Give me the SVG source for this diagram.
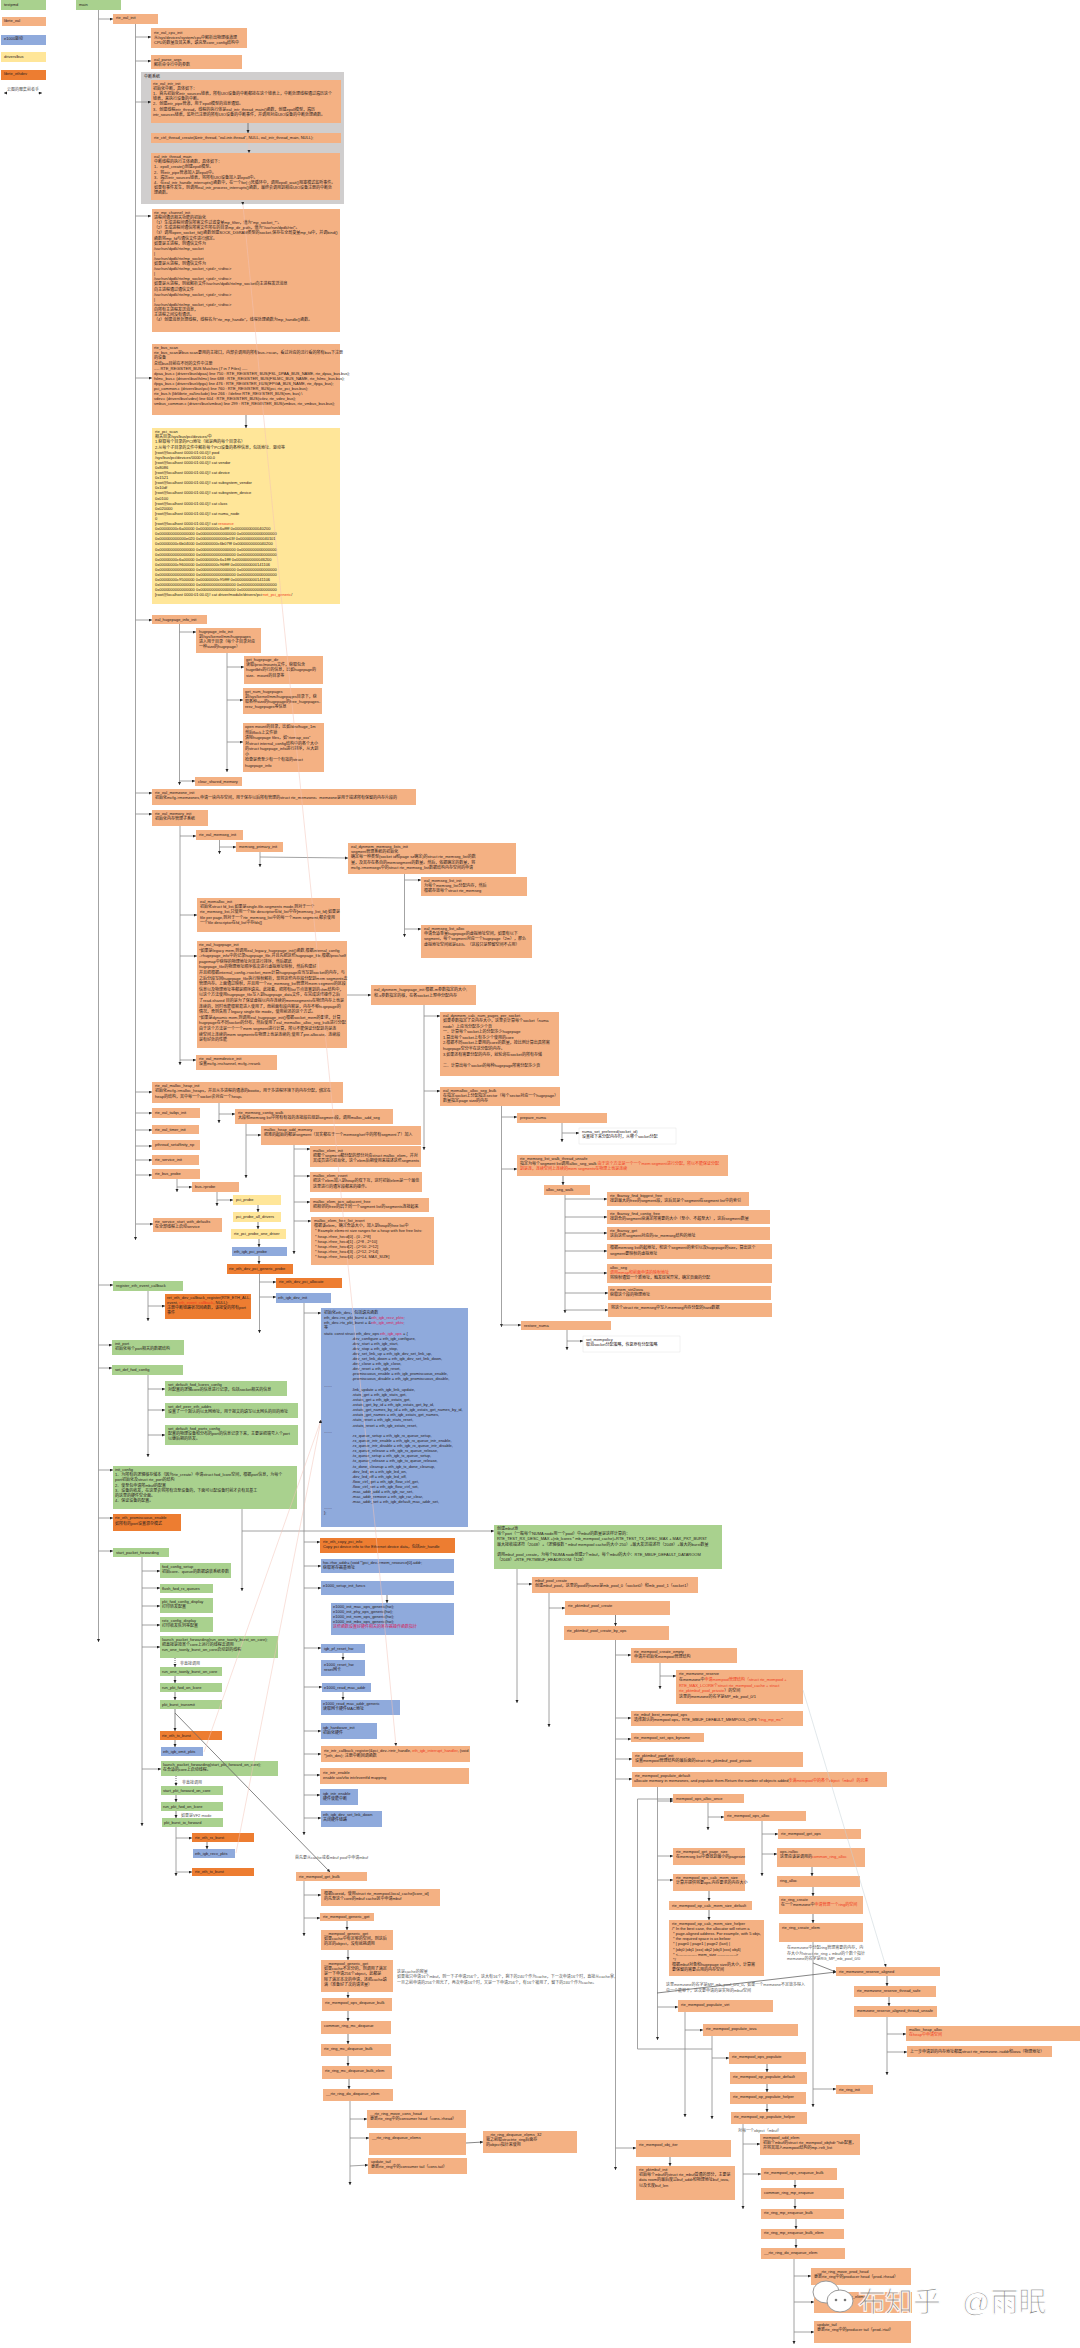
<svg xmlns="http://www.w3.org/2000/svg" width="1080" height="2348" viewBox="0 0 1080 2348">
<style>
.o{fill:#F4B183}.d{fill:#ED7D31}.g{fill:#A9D18E}.b{fill:#8FAADC}.y{fill:#FFE699}.w{fill:#fff;stroke:#e4e4e4;stroke-width:.5}
text{font:4px "Liberation Sans","Noto Sans CJK SC",sans-serif;fill:#2a2020}
.r{fill:#f03a20}.m{fill:#d8205a}.l{fill:#555}
.c path{fill:none;stroke:#8c8c8c;stroke-width:.8;marker-end:url(#a)}
.c .k{stroke:#666}.c .n{marker-end:none}.c .dot{stroke-dasharray:1 1;stroke:#444}
.c .p{stroke:#f2c2b6;stroke-width:.5;marker-start:url(#a)}.c .q{stroke:#f2c2b6;stroke-width:.5}.c .s{stroke:#c4d0d6;stroke-width:.5}
.wm{font:28px "Liberation Sans","Noto Sans CJK SC",sans-serif;fill:#777;stroke:#fff;stroke-width:1.2;paint-order:normal;opacity:.85}
</style>
<defs><marker id="a" markerUnits="userSpaceOnUse" markerWidth="4" markerHeight="4" refX="3" refY="1.5" orient="auto"><path d="M0 0L3 1.5L0 3z" fill="#222"/></marker></defs>
<rect width="1080" height="2348" fill="#fff"/>
<g id="legend">
<rect class="g" x="1" y="0" width="45" height="10"/><text x="4" y="5.8">testpmd</text>
<rect class="o" x="2" y="17" width="44" height="9"/><text x="4" y="22">librte_eal</text>
<rect class="b" x="1" y="35" width="45" height="10"/><text x="4" y="40">e1000驱动</text>
<rect class="y" x="1" y="52" width="45" height="10"/><text x="4" y="58">drivers/bus</text>
<rect class="d" x="1" y="70" width="45" height="10"/><text x="4" y="75">librte_ethdev</text>
<text class="l" x="7" y="91">云图的聚集前者手</text>
</g>
<g id="n-grp"><rect x="141" y="72" width="203" height="132" fill="#D0CECE"/><text x="144" y="78">中断系统</text></g>
<g id="n-main"><rect class="g" x="76" y="0" width="45" height="10"/><text x="79" y="5.5">main</text></g>
<g id="n1"><rect class="o" x="113" y="14" width="45" height="10"/><text x="116" y="19">rte_eal_init</text></g>
<g id="n2"><rect class="o" x="151" y="28" width="96" height="20"/><text x="154" y="28.5"><tspan x="154" dy="5">rte_eal_cpu_init</tspan><tspan x="154" dy="5.1">从/sys/devices/system/cpu中解析出物理核道理</tspan><tspan x="154" dy="5.1">CPU的数量及其关系，填充至core_config结构中</tspan></text></g>
<g id="n3"><rect class="o" x="151" y="55" width="91" height="14"/><text x="154" y="55.5"><tspan x="154" dy="5">eal_parse_args</tspan><tspan x="154" dy="5.1">解析命令行中的参数</tspan></text></g>
<g id="n4"><rect class="o" x="151" y="80" width="190" height="43"/><text y="80"><tspan x="153" dy="5">rte_eal_intr_init</tspan><tspan x="153" dy="5.1">初始化中断，具体如下：</tspan><tspan x="153" dy="5.1">1、首先初始化intr_sources链表，所有UIO设备的中断都挂在这个链表上，中断处理线程通过遍历这个</tspan><tspan x="153" dy="5.1">链表，来执行设备的中断。</tspan><tspan x="153" dy="5.1">2、创建intr_pipe管道，用于epoll模型的消息通知。</tspan><tspan x="153" dy="5.1">3、创建线程intr_thread，线程的执行体是eal_intr_thread_main()函数，创建epoll模型，遍历</tspan><tspan x="153" dy="5.1">intr_sources链表，监听已注册的所有UIO设备的中断事件，并调用对应UIO设备的中断处理函数。</tspan></text></g>
<g id="n5"><rect class="o" x="151" y="133" width="190" height="10"/><text x="154" y="139">rte_ctrl_thread_create(&amp;intr_thread, "eal-intr-thread", NULL, eal_intr_thread_main, NULL);</text></g>
<g id="n6"><rect class="o" x="151" y="153" width="189" height="47"/><text y="153"><tspan x="154" dy="5.2">eal_intr_thread_main</tspan><tspan x="154" dy="5.1">中断线程的执行主体函数，具体如下：</tspan><tspan x="154" dy="5.1">1、epoll_create()创建epoll模型。</tspan><tspan x="154" dy="5.1">2、将intr_pipe管道加入到epoll中。</tspan><tspan x="154" dy="5.1">3、遍历intr_sources链表，将所有UIO设备加入到epoll中。</tspan><tspan x="154" dy="5.1">4、在eal_intr_handle_interrupts()函数中，在一个for(;;)死循环中，调用epoll_wait()阻塞模式监听事件。</tspan><tspan x="154" dy="5.1">如果有事件发生，则调用eal_intr_process_interrupts()函数，最终会调用到相应UIO设备注册的中断处</tspan><tspan x="154" dy="5.1">理函数。</tspan></text></g>
<g id="n7"><rect class="o" x="152" y="209" width="188" height="123"/><text y="209"><tspan x="154" dy="5">rte_mp_channel_init</tspan><tspan x="154" dy="5.1">进程间通讯相关功能的初始化</tspan><tspan x="154" dy="5.1">（1）生成进程间通信所需文件过滤变量mp_filter，值为"mp_socket_*"。</tspan><tspan x="154" dy="5.1">（2）生成进程间通信所需文件所在的目录mp_dir_path，值为"/var/run/dpdk/rte/"。</tspan><tspan x="154" dy="5.1">（3）调用open_socket_fd()函数创建SOCK_DGRAM类型的socket,保存在全局变量mp_fd中，并调bind()</tspan><tspan x="154" dy="5.1">函数将mp_fd与通信文件进行绑定。</tspan><tspan x="154" dy="5.1">如果是主进程，则通信文件为</tspan><tspan x="154" dy="5.1">/var/run/dpdk/rte/mp_socket</tspan><tspan x="154" dy="5.1">|</tspan><tspan x="154" dy="5.1">/var/run/dpdk/rte/mp_socket</tspan><tspan x="154" dy="5.1">如果是从进程，则通信文件为</tspan><tspan x="154" dy="5.1">/var/run/dpdk/rte/mp_socket_&lt;pid&gt;_&lt;rdtsc&gt;</tspan><tspan x="154" dy="5.1">|</tspan><tspan x="154" dy="5.1">/var/run/dpdk/rte/mp_socket_&lt;pid&gt;_&lt;rdtsc&gt;</tspan><tspan x="154" dy="5.1">如果是从进程，则就解析文件/var/run/dpdk/rte/mp_socket向主进程发送消息</tspan><tspan x="154" dy="5.1">向主进程通过通信文件</tspan><tspan x="154" dy="5.1">/var/run/dpdk/rte/mp_socket_&lt;pid&gt;_&lt;rdtsc&gt;</tspan><tspan x="154" dy="5.1">|</tspan><tspan x="154" dy="5.1">/var/run/dpdk/rte/mp_socket_&lt;pid&gt;_&lt;rdtsc&gt;</tspan><tspan x="154" dy="5.1">向所有主进程发送消息，</tspan><tspan x="154" dy="5.1">主进程之间没有通讯。</tspan><tspan x="154" dy="5.1">（4）创建消息处理线程，线程名为"rte_mp_handle"，线程处理函数为mp_handle()函数。</tspan></text></g>
<g id="n8"><rect class="o" x="152" y="344" width="188" height="71"/><text y="344"><tspan x="154" dy="5.2">rte_bus_scan</tspan><tspan x="154" dy="5.1">rte_bus_scan是bus scan要用的主接口，内部会调用的所有bus->scan，看过对应的流行看的所有bus下注册</tspan><tspan x="154" dy="5.1">的设备</tspan><tspan x="154" dy="5.1">总结bus目前在不同的文件中注册</tspan><tspan x="154" dy="5.1">---- RTE_REGISTER_BUS Matches (7 in 7 Files) ----</tspan><tspan x="154" dy="5.1">dpaa_bus.c (drivers\bus\dpaa) line 750 : RTE_REGISTER_BUS(FSL_DPAA_BUS_NAME, rte_dpaa_bus.bus);</tspan><tspan x="154" dy="5.1">fslmc_bus.c (drivers\bus\fslmc) line 688 : RTE_REGISTER_BUS(FSLMC_BUS_NAME, rte_fslmc_bus.bus);</tspan><tspan x="154" dy="5.1">ifpga_bus.c (drivers\bus\ifpga) line 476 : RTE_REGISTER_BUS(IFPGA_BUS_NAME, rte_ifpga_bus);</tspan><tspan x="154" dy="5.1">pci_common.c (drivers\bus\pci) line 760 : RTE_REGISTER_BUS(pci, rte_pci_bus.bus);</tspan><tspan x="154" dy="5.1">rte_bus.h (lib\librte_eal\include) line 266 : #define RTE_REGISTER_BUS(nm, bus) \</tspan><tspan x="154" dy="5.1">vdev.c (drivers\bus\vdev) line 604 : RTE_REGISTER_BUS(vdev, rte_vdev_bus);</tspan><tspan x="154" dy="5.1">vmbus_common.c (drivers\bus\vmbus) line 299 : RTE_REGISTER_BUS(vmbus, rte_vmbus_bus.bus);</tspan></text></g>
<g id="n9"><rect class="y" x="152" y="428" width="188" height="176"/><text y="428"><tspan x="155" dy="5.2">rte_pci_scan</tspan><tspan x="155" dy="5.1">相关目录/sys/bus/pci/devices/中</tspan><tspan x="155" dy="5.1">1.获取每个目录的PCI地址（就是两的每个目录名）</tspan><tspan x="155" dy="5.1">2.从每个子目录的文件中解析每个PCI设备的各种信息，包括地址、驱动等</tspan><tspan x="155" dy="5.1">[root@localhost 0000:01:00.0]# pwd</tspan><tspan x="155" dy="5.1">/sys/bus/pci/devices/0000:01:00.0</tspan><tspan x="155" dy="5.1">[root@localhost 0000:01:00.0]# cat vendor</tspan><tspan x="155" dy="5.1">0x8086</tspan><tspan x="155" dy="5.1">[root@localhost 0000:01:00.0]# cat device</tspan><tspan x="155" dy="5.1">0x1521</tspan><tspan x="155" dy="5.1">[root@localhost 0000:01:00.0]# cat subsystem_vendor</tspan><tspan x="155" dy="5.1">0x10df</tspan><tspan x="155" dy="5.1">[root@localhost 0000:01:00.0]# cat subsystem_device</tspan><tspan x="155" dy="5.1">0x0100</tspan><tspan x="155" dy="5.1">[root@localhost 0000:01:00.0]# cat class</tspan><tspan x="155" dy="5.1">0x020000</tspan><tspan x="155" dy="5.1">[root@localhost 0000:01:00.0]# cat numa_node</tspan><tspan x="155" dy="5.1">0</tspan><tspan x="155" dy="5.1">[root@localhost 0000:01:00.0]# cat <tspan class="r">resource</tspan></tspan><tspan x="155" dy="5.1">0x00000000c6a00000  0x00000000c6afffff  0x0000000000040200</tspan><tspan x="155" dy="5.1">0x0000000000000000  0x0000000000000000  0x0000000000000000</tspan><tspan x="155" dy="5.1">0x000000000000e020  0x000000000000e03f  0x0000000000040101</tspan><tspan x="155" dy="5.1">0x00000000c6b04000  0x00000000c6b07fff  0x0000000000040200</tspan><tspan x="155" dy="5.1">0x0000000000000000  0x0000000000000000  0x0000000000000000</tspan><tspan x="155" dy="5.1">0x0000000000000000  0x0000000000000000  0x0000000000000000</tspan><tspan x="155" dy="5.1">0x00000000c6a00000  0x00000000c6a1ffff  0x0000000000046200</tspan><tspan x="155" dy="5.1">0x00000000c9600000  0x00000000c96fffff  0x0000000000141106</tspan><tspan x="155" dy="5.1">0x0000000000000000  0x0000000000000000  0x0000000000000000</tspan><tspan x="155" dy="5.1">0x0000000000000000  0x0000000000000000  0x0000000000000000</tspan><tspan x="155" dy="5.1">0x00000000c9500000  0x00000000c95fffff  0x0000000000141106</tspan><tspan x="155" dy="5.1">0x0000000000000000  0x0000000000000000  0x0000000000000000</tspan><tspan x="155" dy="5.1">0x0000000000000000  0x0000000000000000  0x0000000000000000</tspan><tspan x="155" dy="5.1">[root@localhost 0000:01:00.0]# cat driver/module/drivers/pci:<tspan class="r">net_pci_generic</tspan>/</tspan></text></g>
<g id="n10"><rect class="o" x="152" y="615" width="55" height="9"/><text x="155" y="621">eal_hugepage_info_init</text></g>
<g id="n11"><rect class="o" x="196" y="628" width="65" height="25"/><text y="628"><tspan x="199" dy="5">hugepage_info_init</tspan><tspan x="199" dy="5.1">到/sys/kernel/mm/hugepages</tspan><tspan x="199" dy="5.1">进入用于目录（每个子目录对应</tspan><tspan x="199" dy="5.1">一种size的hugepage）</tspan></text></g>
<g id="n12"><rect class="o" x="244" y="656" width="79" height="28"/><text y="656"><tspan x="246" dy="5.2">get_hugepage_dir</tspan><tspan x="246" dy="5.1">读取/proc/mounts文件，获取包含</tspan><tspan x="246" dy="5.1">hugetlbfs的行的信息，比如hugepage的</tspan><tspan x="246" dy="5.1">size、mount的目录等</tspan></text></g>
<g id="n13"><rect class="o" x="243" y="688" width="79" height="26"/><text y="688"><tspan x="245" dy="5">get_num_hugepages</tspan><tspan x="245" dy="5.1">到/sys/kernel/mm/hugepages目录下，获</tspan><tspan x="245" dy="5.1">取各种size的hugepage的free_hugepages、</tspan><tspan x="245" dy="5.1">resv_hugepages等信息</tspan></text></g>
<g id="n14"><rect class="o" x="243" y="723" width="81" height="49"/><text y="723"><tspan x="245" dy="5">open mount的目录，比如/dev/huge_1m</tspan><tspan x="245" dy="5.5">然后flock上文件锁</tspan><tspan x="245" dy="5.5">清除hugepage files，如"rtemap_xxx"</tspan><tspan x="245" dy="5.5">对struct internal_config结构中的各个大小</tspan><tspan x="245" dy="5.5">的struct hugepage_info进行排序，从大到</tspan><tspan x="245" dy="5.5">小</tspan><tspan x="245" dy="5.5">检查是否至少有一个有效的struct</tspan><tspan x="245" dy="5.5">hugepage_info</tspan></text></g>
<g id="n15"><rect class="o" x="195" y="777" width="47" height="9"/><text x="198" y="783">clear_shared_memory</text></g>
<g id="n16"><rect class="o" x="152" y="789" width="264" height="16"/><text y="789"><tspan x="155" dy="5.2">rte_eal_memzone_init</tspan><tspan x="155" dy="5.2">初始化mcfg->memzones,申请一块内存空间，用于保存以后所有管理的struct rte_memzone。memzone是用于描述所有保留的内存片段的</tspan></text></g>
<g id="n17"><rect class="o" x="152" y="810" width="56" height="16"/><text y="810"><tspan x="155" dy="5.2">rte_eal_memory_init</tspan><tspan x="155" dy="5.2">初始化内存管理子系统</tspan></text></g>
<g id="n18"><rect class="o" x="196" y="830" width="47" height="10"/><text x="199" y="836">rte_eal_memseg_init</text></g>
<g id="n19"><rect class="o" x="236" y="842" width="47" height="10"/><text x="239" y="848">memseg_primary_init</text></g>
<g id="n20"><rect class="o" x="348" y="843" width="168" height="31"/><text y="843"><tspan x="351" dy="5.2">eal_dynmem_memseg_lists_init</tspan><tspan x="351" dy="5.1">segment管理系统的初始化</tspan><tspan x="351" dy="5.1">确定每一种类型(socket id和page sz确定)的struct rte_memseg_list的数</tspan><tspan x="351" dy="5.1">量，及其存在各自的memsegment的数量。然后，依据确定的数量，将</tspan><tspan x="351" dy="5.1">mcfg->memsegs中的struct rte_memseg_list数据结构内存空间的申请</tspan></text></g>
<g id="n21"><rect class="o" x="421" y="877" width="106" height="19"/><text y="877"><tspan x="424" dy="5.2">eal_memseg_list_init</tspan><tspan x="424" dy="5.1">为每个memseg_list分配内存，然后</tspan><tspan x="424" dy="5.1">根据存放每个struct rte_memseg</tspan></text></g>
<g id="n22"><rect class="o" x="421" y="925" width="111" height="33"/><text y="925"><tspan x="424" dy="5.2">eal_memseg_list_alloc</tspan><tspan x="424" dy="5.1">申请合适重量hugepage的虚拟地址空间，如果有以下</tspan><tspan x="424" dy="5.1">segment，每个segment对应一个hugepage（2m），那么</tspan><tspan x="424" dy="5.1">虚拟地址空间就是64G。（这段只是预留空间不占用）</tspan></text></g>
<g id="n23"><rect class="o" x="197" y="898" width="143" height="34"/><text y="898"><tspan x="200" dy="5.2">eal_memalloc_init</tspan><tspan x="200" dy="5.1">初始化struct fd_list,如果是single-file-segments mode,则对于一个</tspan><tspan x="200" dy="5.1">rte_memseg_list,只使用一个file descriptor在fd_list中存[memseg_list_fd];如果是</tspan><tspan x="200" dy="5.1">file per page,则对于一个rte_memseg_list中的每一个mem segment,都会使用</tspan><tspan x="200" dy="5.1">一个file descriptor在fd_list中存fds[]</tspan></text></g>
<g id="n24"><rect class="o" x="197" y="941" width="150" height="107"/><text y="941"><tspan x="199" dy="5">rte_eal_hugepage_init</tspan><tspan x="199" dy="5.6">*如果是legacy mem,则调用eal_legacy_hugepage_init()函数,根据internal_config</tspan><tspan x="199" dy="5.6">->hugepage_info中的记录hugepage_file,并且先把这些hugepage_file,根据/proc/self</tspan><tspan x="199" dy="5.6">pagemap中获得的物理地址对其进行排序，然后据此</tspan><tspan x="199" dy="5.6">hugepage_file的物理地址顺序依次进行虚拟地址映射，然后构建好</tspan><tspan x="199" dy="5.6">并且把根据internal_config->socket_mem计算hugepage应当写到socket的内存，与</tspan><tspan x="199" dy="5.6">之后分段写回hugepage_file执行映射解析，现将这些内存段分配到mem segments去</tspan><tspan x="199" dy="5.6">管理内存。上面通过映射，并且用一个rte_memseg_list管理对mem segment的区段</tspan><tspan x="199" dy="5.6">信息以及物理地址等都是顺序填充。此接着，把所有list节点放置到的shm结构中，</tspan><tspan x="199" dy="5.6">以这个方法使用hugepage_file写入到hugepage_data文件，在完成这些操作之后</tspan><tspan x="199" dy="5.6">了read-shared 目的是为了保证虚拟以内存连续的memsegments在物理内存上也是</tspan><tspan x="199" dy="5.6">连续的，同时也能很容易进入使用了，而前面有段内容是，内存不够hugepage的</tspan><tspan x="199" dy="5.6">情况，否则失败了legacy single file mode，使用前还的这个方式。</tspan><tspan x="199" dy="5.6">*如果是dynamic mem,则调用eal_hugepage_init()根据socket_mem的要求，计算</tspan><tspan x="199" dy="5.6">hugepage在不同socket的分布，然后使用了eal_memalloc_alloc_seg_bulk进行分配</tspan><tspan x="199" dy="5.6">由于这个方法是一个一个mem segment进行计算，所以不能保证分配到的是连</tspan><tspan x="199" dy="5.6">续空间上连续的mem segments在物理上也是连续的,使用了pre-allocate，连续段</tspan><tspan x="199" dy="5.6">是有好处的性能</tspan></text></g>
<g id="n25"><rect class="o" x="196" y="1055" width="81" height="15"/><text y="1055"><tspan x="199" dy="5">rte_eal_memdevice_init</tspan><tspan x="199" dy="5.3">设置mcfg->nchannel, mcfg->nrank</tspan></text></g>
<g id="n26"><rect class="o" x="152" y="1082" width="191" height="21"/><text y="1082"><tspan x="155" dy="5">rte_eal_malloc_heap_init</tspan><tspan x="155" dy="5.3">初始化mcfg->malloc_heaps，并且从多进程的通道的bootio，用于多进程环境下的内存分配，绑定在</tspan><tspan x="155" dy="5.3">heap的结构，其中每一个socket会对应一个heap。</tspan></text></g>
<g id="n27"><rect class="o" x="152" y="1108" width="48" height="10"/><text x="155" y="1114">rte_eal_tailqs_init</text></g>
<g id="n28"><rect class="o" x="152" y="1125" width="47" height="9"/><text x="155" y="1130.5">rte_eal_timer_init</text></g>
<g id="n29"><rect class="o" x="152" y="1140" width="48" height="10"/><text x="155" y="1146">pthread_setaffinity_np</text></g>
<g id="n30"><rect class="o" x="152" y="1155" width="47" height="10"/><text x="155" y="1160.5">rte_service_init</text></g>
<g id="n31"><rect class="o" x="152" y="1169" width="48" height="10"/><text x="155" y="1175">rte_bus_probe</text></g>
<g id="n32"><rect class="o" x="192" y="1182" width="47" height="10"/><text x="195" y="1187.5">bus->probe</text></g>
<g id="n33"><rect class="y" x="233" y="1195" width="48" height="10"/><text x="236" y="1200.5">pci_probe</text></g>
<g id="n34"><rect class="y" x="233" y="1212" width="48" height="10"/><text x="236" y="1217.5">pci_probe_all_drivers</text></g>
<g id="n35"><rect class="y" x="231" y="1229" width="55" height="10"/><text x="234" y="1235">rte_pci_probe_one_driver</text></g>
<g id="n36"><rect class="b" x="232" y="1247" width="55" height="9"/><text x="234" y="1252.5">eth_igb_pci_probe</text></g>
<g id="n37"><rect class="d" x="227" y="1264" width="66" height="10"/><text x="229" y="1270">rte_eth_dev_pci_generic_probe</text></g>
<g id="n38"><rect class="d" x="276" y="1278" width="66" height="10"/><text x="279" y="1283">rte_eth_dev_pci_allocate</text></g>
<g id="n39"><rect class="b" x="276" y="1293" width="55" height="10"/><text x="278" y="1298.5">eth_igb_dev_init</text></g>
<g id="n40"><rect class="o" x="153" y="1218" width="69" height="14"/><text y="1218"><tspan x="155" dy="5">rte_service_start_with_defaults</tspan><tspan x="155" dy="5.1">在全部线程上启动service</tspan></text></g>
<g id="n41"><rect class="o" x="235" y="1109" width="158" height="15"/><text y="1109"><tspan x="238" dy="5">rte_memseg_contig_walk</tspan><tspan x="238" dy="5.1">大段和memseg list中所有有效的连接段抗组到segment段，调用malloc_add_seg</tspan></text></g>
<g id="n42"><rect class="o" x="261" y="1126" width="160" height="19"/><text y="1126"><tspan x="264" dy="5">malloc_heap_add_memory</tspan><tspan x="264" dy="5.2">把堆的起始的都是segment（其实都在于一个memseg/set中的所有segment了）加入</tspan></text></g>
<g id="n43"><rect class="o" x="310" y="1146" width="111" height="21"/><text y="1146"><tspan x="313" dy="5.5">malloc_elem_init</tspan><tspan x="313" dy="5.3">把整个segment都分配的部分对应struct malloc_elem，并对</tspan><tspan x="313" dy="5.3">其成员进行初始化，这个elem后期使用来描述这些segments</tspan></text></g>
<g id="n44"><rect class="o" x="310" y="1172" width="112" height="20"/><text y="1172"><tspan x="313" dy="5">malloc_elem_insert</tspan><tspan x="313" dy="5.3">把这个elem加入到heap的双下互，这时初始elem是一个最佳</tspan><tspan x="313" dy="5.3">这里进行的通常段都来的操作。</tspan></text></g>
<g id="n45"><rect class="o" x="310" y="1198" width="119" height="14"/><text y="1198"><tspan x="313" dy="5">malloc_elem_join_adjacent_free</tspan><tspan x="313" dy="5.1">把相邻的free的属于同一个segment list的segments连接起来</tspan></text></g>
<g id="n46"><rect class="o" x="311" y="1217" width="123" height="48"/><text y="1217"><tspan x="314" dy="5">malloc_elem_free_list_insert</tspan><tspan x="314" dy="5.2">根据该elem，确定合适大小，加入到heap的free list中</tspan><tspan x="314" dy="5.2"> * Example element size ranges for a heap with five free lists:</tspan><tspan x="314" dy="5.2"> *   heap->free_head[0] - (0   , 2^8]</tspan><tspan x="314" dy="5.2"> *   heap->free_head[1] - (2^8 , 2^10]</tspan><tspan x="314" dy="5.2"> *   heap->free_head[2] - (2^10 ,2^12]</tspan><tspan x="314" dy="5.2"> *   heap->free_head[3] - (2^12, 2^14]</tspan><tspan x="314" dy="5.2"> *   heap->free_head[4] - (2^14, MAX_SIZE]</tspan></text></g>
<g id="n47"><rect class="o" x="371" y="985" width="105" height="20"/><text y="985"><tspan x="374" dy="6">eal_dynmem_hugepage_init 根据-m参数指定的大小,</tspan><tspan x="374" dy="5.6">和-s参数指定的核，在各socket上预申分配内存</tspan></text></g>
<g id="n48"><rect class="o" x="440" y="1012" width="119" height="64"/><text y="1012"><tspan x="443" dy="5">eal_dynmem_calc_num_pages_per_socket</tspan><tspan x="443" dy="5.3">如果参数指定了总内存大小，这里会计算每个socket（numa</tspan><tspan x="443" dy="5.3">node）上应当分配多少个页</tspan><tspan x="443" dy="5.6">一、计算每个socket上的分配多少hugepage</tspan><tspan x="443" dy="5.6">1.算出每个socket上有多少个使用的core</tspan><tspan x="443" dy="5.6">2.根据不同socket上要用的core的数量，按比例计算出具所需</tspan><tspan x="443" dy="5.6">hugepage空分半在这分配的内存。</tspan><tspan x="443" dy="5.6">3.如果还有需要分配的内存，就轮询在socket的所有存储</tspan><tspan x="443" dy="11">二、计算出每个socket的每种hugepage所需分配多少页</tspan></text></g>
<g id="n49"><rect class="o" x="440" y="1087" width="120" height="19"/><text y="1087"><tspan x="443" dy="4.8">eal_memalloc_alloc_seg_bulk</tspan><tspan x="443" dy="5.1">在指定socket上分配指定sector（每个sector对应一个hugepage）</tspan><tspan x="443" dy="5.1">数量指定page size的内存</tspan></text></g>
<g id="n50"><rect class="o" x="517" y="1113" width="90" height="10"/><text x="520" y="1118.5">prepare_numa</text></g>
<g id="n51"><rect class="w" x="579" y="1128" width="97" height="16"/><text y="1128"><tspan x="582" dy="5.2">numa_set_preferred(socket_id)</tspan><tspan x="582" dy="5.1">设置接下来分配内存时，从哪个socket分配</tspan></text></g>
<g id="n52"><rect class="o" x="517" y="1155" width="211" height="21"/><text y="1155"><tspan x="520" dy="5">rte_memseg_list_walk_thread_unsafe</tspan><tspan x="520" dy="5.2">指定为每个segment list调用alloc_seg_walk  <tspan class="r">由于这个方法是一个一个mem segment进行分配，所以不能保证分配</tspan></tspan><tspan x="520" dy="5.2" class="r">到是连，连续空间上连续的mem segments在物理上也是连续</tspan></text></g>
<g id="n53"><rect class="o" x="544" y="1185" width="46" height="10"/><text x="546" y="1190.5">alloc_seg_walk</text></g>
<g id="n54"><rect class="o" x="607" y="1192" width="142" height="14"/><text y="1192"><tspan x="610" dy="5">rte_fbarray_find_biggest_free</tspan><tspan x="610" dy="5.1">找到最大的free的segment段，这后其是个segment在segment list中的索引</tspan></text></g>
<g id="n55"><rect class="o" x="607" y="1210" width="163" height="14"/><text y="1210"><tspan x="610" dy="5">rte_fbarray_find_contig_free</tspan><tspan x="610" dy="5.1">找到合的segment块满足所需要的大小（至小、不超至大），这后segment数量</tspan></text></g>
<g id="n56"><rect class="o" x="607" y="1227" width="163" height="13"/><text y="1227"><tspan x="610" dy="5">rte_fbarray_get</tspan><tspan x="610" dy="5.1">这后这些segment对应的rte_memseg结构的地址</tspan></text></g>
<g id="n57"><rect class="o" x="607" y="1244" width="165" height="15"/><text y="1244"><tspan x="610" dy="5.4">根据memseg list的起地址，和这个segment的索引以及hugepage的size，算出这个</tspan><tspan x="610" dy="5.4">segment要映射的虚拟地址</tspan></text></g>
<g id="n58"><rect class="o" x="607" y="1264" width="165" height="19"/><text y="1264"><tspan x="610" dy="5">alloc_seg</tspan><tspan x="610" dy="5.2" class="r">调用mmap和前面申请的映射地址</tspan><tspan x="610" dy="5.2">将映射通知一个新地址，触发经常异常，确定页面的分配</tspan></text></g>
<g id="n59"><rect class="o" x="608" y="1286" width="163" height="14"/><text y="1286"><tspan x="610" dy="5">rte_mem_virt2iova</tspan><tspan x="610" dy="5.1">获取这个段的物理地址</tspan></text></g>
<g id="n60"><rect class="o" x="608" y="1303" width="164" height="14"/><text x="611" y="1309">将这个struct rte_memseg中写入memseg内存分配的hard数据</text></g>
<g id="n61"><rect class="o" x="521" y="1321" width="90" height="9"/><text x="524" y="1326.5">restore_numa</text></g>
<g id="n62"><rect class="w" x="583" y="1336" width="97" height="16"/><text y="1336"><tspan x="586" dy="5.2">set_mempolicy</tspan><tspan x="586" dy="5.1">取消socket分配策略，恢复原有分配策略</tspan></text></g>
<g id="n63"><rect class="g" x="113" y="1281" width="70" height="10"/><text x="116" y="1286.5">register_eth_event_callback</text></g>
<g id="n64"><rect class="d" x="165" y="1294" width="86" height="25"/><text y="1294"><tspan x="167" dy="5">ret_eth_dev_callback_register(RTE_ETH_ALL,</tspan><tspan x="167" dy="5.1">event, <tspan class="r">eth_event_callback</tspan>, NULL);</tspan><tspan x="167" dy="5.1">注册中断链路状况回函数，该接受的所有port</tspan><tspan x="167" dy="5.1">事件</tspan></text></g>
<g id="n65"><rect class="g" x="112" y="1340" width="72" height="15"/><text y="1340"><tspan x="115" dy="5.2">init_port</tspan><tspan x="115" dy="5.2">初始化每个port相关的数据结构</tspan></text></g>
<g id="n66"><rect class="g" x="112" y="1365" width="71" height="10"/><text x="115" y="1370.5">set_def_fwd_config</text></g>
<g id="n67"><rect class="g" x="165" y="1381" width="122" height="15"/><text y="1381"><tspan x="168" dy="5">set_default_fwd_lcores_config</tspan><tspan x="168" dy="5.2">对配置的逻辑core的信息进行记录，包括socket相关的信息</tspan></text></g>
<g id="n68"><rect class="g" x="165" y="1403" width="133" height="15"/><text y="1403"><tspan x="168" dy="5">set_def_peer_eth_addrs</tspan><tspan x="168" dy="5.2">设置了一个默认的以太网地址，用于报文的填写以太网头的目的地址</tspan></text></g>
<g id="n69"><rect class="g" x="165" y="1425" width="133" height="20"/><text y="1425"><tspan x="168" dy="5">set_default_fwd_ports_config</tspan><tspan x="168" dy="5.1">配置的物理设备和分布的port的信息记录下来，主要是把端号入个port</tspan><tspan x="168" dy="5.1">以便后期的转发。</tspan></text></g>
<g id="n70"><rect class="g" x="113" y="1466" width="184" height="43"/><text y="1466"><tspan x="115" dy="5.2">init_config</tspan><tspan x="115" dy="5.1">1、为所有的逻辑核存储本（因为rte_create）申请struct fwd_lcore空间，根据port信息，为每个</tspan><tspan x="115" dy="5.1">port初始化及struct rte_port的结构</tspan><tspan x="115" dy="5.1">2、使至包申请所mbuf的配置</tspan><tspan x="115" dy="5.1">3、设备的收发，在这里会将所有流至设备的，下面可以配设备时前才会有其基工</tspan><tspan x="115" dy="5.1">的这里的硬件空全面。</tspan><tspan x="115" dy="5.1">4、保证设备的配置。</tspan></text></g>
<g id="n71"><rect class="d" x="113" y="1514" width="68" height="17"/><text y="1514"><tspan x="115" dy="5.4">rte_eth_promiscuous_enable</tspan><tspan x="115" dy="5.2">如所有的port设置混杂模式</tspan></text></g>
<g id="n72"><rect class="g" x="113" y="1548" width="56" height="9"/><text x="116" y="1553.5">start_packet_forwarding</text></g>
<g id="n73"><rect class="g" x="160" y="1563" width="71" height="15"/><text y="1563"><tspan x="162" dy="5">fwd_config_setup</tspan><tspan x="162" dy="5.3">初始core、queue的数据填装系统参数</tspan></text></g>
<g id="n74"><rect class="g" x="160" y="1584" width="53" height="9"/><text x="162" y="1589.5">flush_fwd_rx_queues</text></g>
<g id="n75"><rect class="g" x="160" y="1598" width="53" height="15"/><text y="1598"><tspan x="162" dy="5">pkt_fwd_config_display</tspan><tspan x="162" dy="5.2">打印转发配置</tspan></text></g>
<g id="n76"><rect class="g" x="160" y="1617" width="53" height="15"/><text y="1617"><tspan x="162" dy="5">rxtx_config_display</tspan><tspan x="162" dy="5.2">打印收发队列等配置</tspan></text></g>
<g id="n77"><rect class="g" x="160" y="1636" width="118" height="22"/><text y="1636"><tspan x="162" dy="5">launch_packet_forwarding(run_one_txonly_burst_on_core);</tspan><tspan x="162" dy="5.1">把直接是按某个core上运行的线程去调用</tspan><tspan x="162" dy="5.1">run_one_txonly_burst_on_core启动到的线程</tspan></text></g>
<g id="n78"><rect class="g" x="160" y="1667" width="62" height="9"/><text x="162" y="1672.5">run_one_txonly_burst_on_core</text></g>
<g id="n79"><rect class="g" x="160" y="1683" width="62" height="9"/><text x="162" y="1688.5">run_pkt_fwd_on_lcore</text></g>
<g id="n80"><rect class="g" x="160" y="1700" width="62" height="9"/><text x="162" y="1705.5">pkt_burst_transmit</text></g>
<g id="n81"><rect class="d" x="160" y="1731" width="62" height="9"/><text x="162" y="1736.5">rte_eth_tx_burst</text></g>
<g id="n82"><rect class="b" x="161" y="1747" width="42" height="9"/><text x="163" y="1752.5">eth_igb_xmit_pkts</text></g>
<g id="n83"><rect class="g" x="161" y="1761" width="117" height="15"/><text y="1761"><tspan x="163" dy="5">launch_packet_forwarding(start_pkt_forward_on_core);</tspan><tspan x="163" dy="5.1">在合适的core上启动线程。</tspan></text></g>
<g id="n84"><rect class="g" x="161" y="1786" width="62" height="9"/><text x="163" y="1791.5">start_pkt_forward_on_core</text></g>
<g id="n85"><rect class="g" x="161" y="1802" width="62" height="9"/><text x="163" y="1807.5">run_pkt_fwd_on_lcore</text></g>
<g id="n86"><rect class="g" x="162" y="1818" width="61" height="9"/><text x="164" y="1823.5">pkt_burst_io_forward</text></g>
<g id="n87"><rect class="d" x="192" y="1833" width="62" height="9"/><text x="195" y="1838.5">rte_eth_rx_burst</text></g>
<g id="n88"><rect class="b" x="193" y="1849" width="42" height="9"/><text x="195" y="1854.5">eth_igb_recv_pkts</text></g>
<g id="n89"><rect class="d" x="192" y="1868" width="62" height="8"/><text x="195" y="1873">rte_eth_tx_burst</text></g>
<g id="labels">
<text class="l" x="180" y="1664.5">非直接调用</text>
<text class="l" x="182" y="1783.5">非直接调用</text>
<text class="l" x="181" y="1816.5">如果是VF2 mode</text>
<text class="l" x="295" y="1858.5">首先要从cache或者mbuf pool中申请mbuf</text>
<text class="l" y="1968"><tspan x="397" dy="5">这是cache的容量</tspan><tspan x="397" dy="5.3">如果我只申请16个mbuf，则一下子申请256个，这大有16个，剩下的240个作为cache，下一次申请16个时，直接从cache拿，</tspan><tspan x="397" dy="5.3">一旦之前申请的256个用光了，再次申请16个时，又是一下申请256个，有16个被用了，留下的240个作为cache。</tspan></text>
<text class="l" y="1944"><tspan x="787" dy="5">在memzone中分配ring管理需要的内存，内</tspan><tspan x="787" dy="5.6">存大小为struct rte_ring + mbuf的个数个指针</tspan><tspan x="787" dy="5.6">memzone的名字是RG_MP_mb_pool_0/0</tspan></text>
<text class="l" y="1981"><tspan x="666" dy="5">这里memzone的名字是MP_mb_pool_0/0_0，如果一个memzone不足放多得入</tspan><tspan x="666" dy="5.8">中一个能够下，这次要申请的是实际的mbuf空间</tspan></text>
<text class="l" x="738" y="2132">对每一个object（mbuf）</text>
</g>
<g id="n90"><rect class="o" x="296" y="1872" width="71" height="9"/><text x="299" y="1877.5">rte_mempool_get_bulk</text></g>
<g id="n91"><rect class="o" x="321" y="1889" width="119" height="17"/><text y="1889"><tspan x="324" dy="5.5">根据lcoreid，使用struct rte_mempool-local_cache[lcore_id]</tspan><tspan x="324" dy="5.5">的先至这个core的mbuf cache区中申请mbuf</tspan></text></g>
<g id="n92"><rect class="o" x="320" y="1913" width="54" height="8"/><text x="323" y="1918">rte_mempool_generic_get</text></g>
<g id="n93"><rect class="o" x="321" y="1930" width="72" height="20"/><text y="1930"><tspan x="324" dy="5">__mempool_generic_get</tspan><tspan x="324" dy="5.2">如果cache中有足够的空间，则这后</tspan><tspan x="324" dy="5.2">的足的object，没有就挑调用</tspan></text></g>
<g id="n94"><rect class="o" x="321" y="1960" width="72" height="32"/><text y="1960"><tspan x="324" dy="5">__mempool_generic_get</tspan><tspan x="324" dy="5.2">如果cache不足分的，则调用了满足</tspan><tspan x="324" dy="5.2">是一下申请256个object，此都是</tspan><tspan x="324" dy="5.2">除了满足本次的申请，还把cache填</tspan><tspan x="324" dy="5.2">满（准备好了次的请求量）</tspan></text></g>
<g id="n95"><rect class="o" x="322" y="1998" width="70" height="13"/><text x="325" y="2004">rte_mempool_ops_dequeue_bulk</text></g>
<g id="n96"><rect class="o" x="321" y="2021" width="70" height="13"/><text x="324" y="2027">common_ring_mc_dequeue</text></g>
<g id="n97"><rect class="o" x="321" y="2044" width="70" height="12"/><text x="324" y="2049.5">rte_ring_mc_dequeue_bulk</text></g>
<g id="n98"><rect class="o" x="322" y="2066" width="70" height="13"/><text x="325" y="2071.5">rte_ring_mc_dequeue_bulk_elem</text></g>
<g id="n99"><rect class="o" x="323" y="2089" width="70" height="12"/><text x="326" y="2094.5">__rte_ring_do_dequeue_elem</text></g>
<g id="n100"><rect class="o" x="367" y="2110" width="99" height="18"/><text y="2110"><tspan x="370" dy="5">__rte_ring_move_cons_head</tspan><tspan x="370" dy="5.2">更新rte_ring中的consumer head（cons->head）</tspan></text></g>
<g id="n101"><rect class="o" x="369" y="2133" width="97" height="22"/><text x="372" y="2139">__rte_ring_dequeue_elems</text></g>
<g id="n102"><rect class="o" x="483" y="2131" width="94" height="22"/><text y="2131"><tspan x="486" dy="5">__rte_ring_dequeue_elems_32</tspan><tspan x="486" dy="5.1">我之前取structrte_ring后面存</tspan><tspan x="486" dy="5.1">的object指针来使用</tspan></text></g>
<g id="n103"><rect class="o" x="368" y="2158" width="99" height="16"/><text y="2158"><tspan x="371" dy="5">update_tail</tspan><tspan x="371" dy="5.2">更新rte_ring中的consumer tail（cons.tail）</tspan></text></g>
<g id="n104"><rect class="b" x="321" y="1308" width="147" height="219"/><text y="1308"><tspan x="324" dy="5.5">初始化eth_dev，包括填充函数</tspan><tspan x="324" dy="5.2">eth_dev->rx_pkt_burst = &amp;<tspan class="m">eth_igb_recv_pkts</tspan>;</tspan><tspan x="324" dy="5.1">eth_dev->tx_pkt_burst = &amp;<tspan class="m">eth_igb_xmit_pkts</tspan>;</tspan><tspan x="324" dy="5.1">等</tspan><tspan x="324" dy="5.6">static const struct eth_dev_ops <tspan class="m">eth_igb_ops</tspan> = {</tspan><tspan x="352" dy="5.1">.dev_configure       = eth_igb_configure,</tspan><tspan x="352" dy="5.1">.dev_start           = eth_igb_start,</tspan><tspan x="352" dy="5.1">.dev_stop            = eth_igb_stop,</tspan><tspan x="352" dy="5.1">.dev_set_link_up     = eth_igb_dev_set_link_up,</tspan><tspan x="352" dy="5.1">.dev_set_link_down   = eth_igb_dev_set_link_down,</tspan><tspan x="352" dy="5.1">.dev_close           = eth_igb_close,</tspan><tspan x="352" dy="5.1">.dev_reset           = eth_igb_reset,</tspan><tspan x="352" dy="5.1">.promiscuous_enable  = eth_igb_promiscuous_enable,</tspan><tspan x="352" dy="5.1">.promiscuous_disable = eth_igb_promiscuous_disable,</tspan><tspan x="324" dy="6.6">……</tspan><tspan x="352" dy="3.8">.link_update         = eth_igb_link_update,</tspan><tspan x="352" dy="5.1">.stats_get           = eth_igb_stats_get,</tspan><tspan x="352" dy="5.1">.xstats_get          = eth_igb_xstats_get,</tspan><tspan x="352" dy="5.1">.xstats_get_by_id    = eth_igb_xstats_get_by_id,</tspan><tspan x="352" dy="5.1">.xstats_get_names_by_id = eth_igb_xstats_get_names_by_id,</tspan><tspan x="352" dy="5.1">.xstats_get_names    = eth_igb_xstats_get_names,</tspan><tspan x="352" dy="5.1">.stats_reset         = eth_igb_stats_reset,</tspan><tspan x="352" dy="5.1">.xstats_reset        = eth_igb_xstats_reset,</tspan><tspan x="324" dy="6">……</tspan><tspan x="352" dy="4.4">.rx_queue_setup      = eth_igb_rx_queue_setup,</tspan><tspan x="352" dy="5.1">.rx_queue_intr_enable = eth_igb_rx_queue_intr_enable,</tspan><tspan x="352" dy="5.1">.rx_queue_intr_disable = eth_igb_rx_queue_intr_disable,</tspan><tspan x="352" dy="5.1">.rx_queue_release    = eth_igb_rx_queue_release,</tspan><tspan x="352" dy="5.1">.tx_queue_setup      = eth_igb_tx_queue_setup,</tspan><tspan x="352" dy="5.1">.tx_queue_release    = eth_igb_tx_queue_release,</tspan><tspan x="352" dy="5.1">.tx_done_cleanup     = eth_igb_tx_done_cleanup,</tspan><tspan x="352" dy="5.1">.dev_led_on          = eth_igb_led_on,</tspan><tspan x="352" dy="5.1">.dev_led_off         = eth_igb_led_off,</tspan><tspan x="352" dy="5.1">.flow_ctrl_get       = eth_igb_flow_ctrl_get,</tspan><tspan x="352" dy="5.1">.flow_ctrl_set       = eth_igb_flow_ctrl_set,</tspan><tspan x="352" dy="5.1">.mac_addr_add        = eth_igb_rar_set,</tspan><tspan x="352" dy="5.1">.mac_addr_remove     = eth_igb_rar_clear,</tspan><tspan x="352" dy="5.1">.mac_addr_set        = eth_igb_default_mac_addr_set,</tspan><tspan x="324" dy="6">……</tspan><tspan x="324" dy="5.1">};</tspan></text></g>
<g id="n105"><rect class="d" x="320" y="1538" width="135" height="15"/><text y="1538"><tspan x="323" dy="5">rte_eth_copy_pci_info</tspan><tspan x="323" dy="5.2">Copy pci device info to the Ethernet device data，包括intr_handle</tspan></text></g>
<g id="n106"><rect class="b" x="321" y="1559" width="133" height="14"/><text y="1559"><tspan x="323" dy="5">hw->hw_addr= (void *)pci_dev->mem_resource[0].addr;</tspan><tspan x="323" dy="5.2">获取寄存器基地址</tspan></text></g>
<g id="n107"><rect class="b" x="321" y="1581" width="133" height="14"/><text x="323" y="1586.5">e1000_setup_init_funcs</text></g>
<g id="n108"><rect class="b" x="331" y="1603" width="123" height="32"/><text y="1603"><tspan x="333" dy="5">e1000_init_mac_ops_generic(hw);</tspan><tspan x="333" dy="5.1">e1000_init_phy_ops_generic(hw);</tspan><tspan x="333" dy="5.1">e1000_init_nvm_ops_generic(hw);</tspan><tspan x="333" dy="5.1">e1000_init_mbx_ops_generic(hw);</tspan><tspan x="333" dy="5.1" class="m">这些函数设置好硬件相关的寄存器操作函数指针</tspan></text></g>
<g id="n109"><rect class="b" x="321" y="1644" width="44" height="9"/><text x="324" y="1649.5">igb_pf_reset_hw</text></g>
<g id="n110"><rect class="b" x="321" y="1660" width="44" height="16"/><text y="1660"><tspan x="324" dy="5.5">e1000_reset_hw</tspan><tspan x="324" dy="5.2">reset网卡</tspan></text></g>
<g id="n111"><rect class="b" x="322" y="1683" width="49" height="9"/><text x="324" y="1688.5">e1000_read_mac_addr</text></g>
<g id="n112"><rect class="b" x="321" y="1700" width="79" height="15"/><text y="1700"><tspan x="323" dy="5">e1000_read_mac_addr_generic</tspan><tspan x="323" dy="5.2">读取网卡硬件MAC地址</tspan></text></g>
<g id="n113"><rect class="b" x="321" y="1723" width="56" height="16"/><text y="1723"><tspan x="323" dy="5.5">igb_hardware_init</tspan><tspan x="323" dy="5">初始化硬件</tspan></text></g>
<g id="n114"><rect class="o" x="321" y="1746" width="149" height="16"/><text y="1746"><tspan x="324" dy="5.5">rte_intr_callback_register(&amp;pci_dev->intr_handle, <tspan class="r">eth_igb_interrupt_handler</tspan>, (void</tspan><tspan x="324" dy="5.1">*)eth_dev); 注册中断回调函数</tspan></text></g>
<g id="n115"><rect class="o" x="320" y="1768" width="149" height="16"/><text y="1768"><tspan x="323" dy="5.5">rte_intr_enable</tspan><tspan x="323" dy="5.2">enable uio/vfio intr/eventfd mapping</tspan></text></g>
<g id="n116"><rect class="b" x="320" y="1789" width="38" height="16"/><text y="1789"><tspan x="323" dy="5.5">igb_intr_enable</tspan><tspan x="323" dy="5">硬件使能中断</tspan></text></g>
<g id="n117"><rect class="b" x="321" y="1811" width="61" height="16"/><text y="1811"><tspan x="323" dy="5">eth_igb_dev_set_link_down</tspan><tspan x="323" dy="5.2">关闭硬件链路</tspan></text></g>
<g id="n118"><rect class="g" x="494" y="1525" width="228" height="44"/><text y="1525"><tspan x="497" dy="5">创建mbuf池</tspan><tspan x="497" dy="5.2">每个port（一般每个NUMA node用一个pool）中mbuf的数量是这样计算的：</tspan><tspan x="497" dy="5.2">RTE_TEST_RX_DESC_MAX +(nb_lcores * mb_mempool_cache)+RTE_TEST_TX_DESC_MAX + MAX_PKT_BURST</tspan><tspan x="497" dy="5.2">最大接收描述符（2048）+（逻辑核数 * mbuf mempool cache的大小 250）+最大发送描述符（2048）+最大的burst数量</tspan><tspan x="497" dy="10.4">调用mbuf_pool_create，为每个NUMA node创建2个mbuf，每个mbuf的大小：RTE_MBUF_DEFAULT_DATAROOM</tspan><tspan x="497" dy="5.2">（2048）+RTE_PKTMBUF_HEADROOM（128）</tspan></text></g>
<g id="n119"><rect class="o" x="532" y="1577" width="166" height="16"/><text y="1577"><tspan x="535" dy="5">mbuf_pool_create</tspan><tspan x="535" dy="5.2">创建mbuf_pool，这里的pool的name是mb_pool_0（socket0）和mb_pool_1（socket1）</tspan></text></g>
<g id="n120"><rect class="o" x="565" y="1601" width="105" height="14"/><text x="568" y="1606.5">rte_pktmbuf_pool_create</text></g>
<g id="n121"><rect class="o" x="564" y="1626" width="105" height="14"/><text x="567" y="1631.5">rte_pktmbuf_pool_create_by_ops</text></g>
<g id="n122"><rect class="o" x="631" y="1648" width="106" height="15"/><text y="1648"><tspan x="634" dy="5">rte_mempool_create_empty</tspan><tspan x="634" dy="5.2">申请并初始化mempool管理结构</tspan></text></g>
<g id="n123"><rect class="o" x="676" y="1670" width="127" height="34"/><text y="1670"><tspan x="679" dy="5.4">rte_memzone_reserve</tspan><tspan x="679" dy="5.6">在memzone中<tspan class="r">申请mempool管理结构（struct rte_mempool +</tspan></tspan><tspan x="679" dy="5.6" class="r">RTE_MAX_LCORE个struct rte_mempool_cache + struct</tspan><tspan x="679" dy="5.6"><tspan class="r">rte_pktmbuf_pool_private</tspan>）的空间</tspan><tspan x="679" dy="5.6">这里的memzone的名字是MP_mb_pool_0/1</tspan></text></g>
<g id="n124"><rect class="o" x="631" y="1711" width="172" height="15"/><text y="1711"><tspan x="634" dy="5.2">rte_mbuf_best_mempool_ops</tspan><tspan x="634" dy="5.2">选择默认的mempool ops，RTE_MBUF_DEFAULT_MEMPOOL_OPS "<tspan class="r">ring_mp_mc</tspan>"</tspan></text></g>
<g id="n125"><rect class="o" x="631" y="1733" width="73" height="9"/><text x="634" y="1738.5">rte_mempool_set_ops_byname</text></g>
<g id="n126"><rect class="o" x="632" y="1752" width="171" height="15"/><text y="1752"><tspan x="635" dy="5">rte_pktmbuf_pool_init</tspan><tspan x="635" dy="5.2">设置mempool管理结构的最后面的struct rte_pktmbuf_pool_private</tspan></text></g>
<g id="n127"><rect class="o" x="632" y="1772" width="255" height="15"/><text y="1772"><tspan x="635" dy="5">rte_mempool_populate_default</tspan><tspan x="634" dy="5.2">allocate memory in memzones, and populate them.Return the number of objects added<tspan class="r">步满mempool中的各个object（mbuf）的元素</tspan></tspan></text></g>
<g id="n128"><rect class="o" x="673" y="1794" width="71" height="9"/><text x="676" y="1799.5">mempool_ops_alloc_once</text></g>
<g id="n129"><rect class="o" x="724" y="1811" width="82" height="10"/><text x="727" y="1816.5">rte_mempool_ops_alloc</text></g>
<g id="n130"><rect class="o" x="778" y="1829" width="83" height="10"/><text x="781" y="1834.5">rte_mempool_get_ops</text></g>
<g id="n131"><rect class="o" x="777" y="1848" width="88" height="19"/><text y="1848"><tspan x="780" dy="5">ops->alloc</tspan><tspan x="780" dy="5.2">这里应该是调用的<tspan class="r">common_ring_alloc</tspan></tspan></text></g>
<g id="n132"><rect class="o" x="777" y="1876" width="83" height="11"/><text x="780" y="1882">ring_alloc</text></g>
<g id="n133"><rect class="o" x="779" y="1896" width="84" height="18"/><text y="1896"><tspan x="781" dy="5">rte_ring_create</tspan><tspan x="781" dy="5.3">在一个memzone中<tspan class="r">申请管理一个ring的空间</tspan></tspan></text></g>
<g id="n134"><rect class="o" x="779" y="1923" width="84" height="19"/><text x="782" y="1929">rte_ring_create_elem</text></g>
<g id="n135"><rect class="o" x="673" y="1848" width="72" height="17"/><text y="1848"><tspan x="676" dy="5">rte_mempool_get_page_size</tspan><tspan x="676" dy="5.2">在memseg list中查找到最小的pagesize</tspan></text></g>
<g id="n136"><rect class="o" x="673" y="1874" width="72" height="17"/><text y="1874"><tspan x="676" dy="5">rte_mempool_ops_calc_mem_size</tspan><tspan x="676" dy="5.2">计算并提供将要ops.内存要求的内存大小</tspan></text></g>
<g id="n137"><rect class="o" x="669" y="1901" width="83" height="9"/><text x="672" y="1907">rte_mempool_op_calc_mem_size_default</text></g>
<g id="n138"><rect class="o" x="669" y="1920" width="95" height="56"/><text y="1920"><tspan x="672" dy="5">rte_mempool_op_calc_mem_size_helper</tspan><tspan x="672" dy="5.1">/* In the best case, the allocator will return a</tspan><tspan x="672" dy="5.1"> * page-aligned address. For example, with 5 objs,</tspan><tspan x="672" dy="5.1"> * the required space is as below:</tspan><tspan x="672" dy="5.1"> *  |     page0     |     page1     | page2 (last) |</tspan><tspan x="672" dy="5.1"> *  |obj0 |obj1 |xxx| obj2 |obj3 |xxx| obj4|</tspan><tspan x="672" dy="5.1"> *  &lt;-------------- mem_size --------------></tspan><tspan x="672" dy="5.1"> */</tspan><tspan x="672" dy="5.1">根据mbuf对象和hugepage size的大小，计算需</tspan><tspan x="672" dy="5.1">要保留的需要占用的内存空间</tspan></text></g>
<g id="n139"><rect class="o" x="678" y="2000" width="95" height="12"/><text x="681" y="2005.5">rte_mempool_populate_virt</text></g>
<g id="n140"><rect class="o" x="703" y="2024" width="95" height="12"/><text x="706" y="2029.5">rte_mempool_populate_iova</text></g>
<g id="n141"><rect class="o" x="729" y="2052" width="77" height="12"/><text x="732" y="2057.5">rte_mempool_ops_populate</text></g>
<g id="n142"><rect class="o" x="730" y="2072" width="77" height="12"/><text x="733" y="2077.5">rte_mempool_op_populate_default</text></g>
<g id="n143"><rect class="o" x="730" y="2092" width="76" height="12"/><text x="733" y="2097.5">rte_mempool_op_populate_helper</text></g>
<g id="n144"><rect class="o" x="731" y="2112" width="76" height="12"/><text x="734" y="2117.5">rte_mempool_op_populate_helper</text></g>
<g id="n145"><rect class="o" x="760" y="2134" width="100" height="21"/><text y="2134"><tspan x="763" dy="5">mempool_add_elem</tspan><tspan x="763" dy="5.2">初始个mbuf的struct rte_mempool_objhdr *hdr配置，</tspan><tspan x="763" dy="5.2">并将其加入mempool结构的mp->elt_list</tspan></text></g>
<g id="n146"><rect class="o" x="761" y="2168" width="76" height="12"/><text x="764" y="2173.5">rte_mempool_ops_enqueue_bulk</text></g>
<g id="n147"><rect class="o" x="761" y="2188" width="83" height="11"/><text x="764" y="2193.5">common_ring_mp_enqueue</text></g>
<g id="n148"><rect class="o" x="761" y="2209" width="83" height="10"/><text x="764" y="2214">rte_ring_mp_enqueue_bulk</text></g>
<g id="n149"><rect class="o" x="761" y="2229" width="83" height="10"/><text x="764" y="2234">rte_ring_mp_enqueue_bulk_elem</text></g>
<g id="n150"><rect class="o" x="761" y="2248" width="84" height="11"/><text x="764" y="2253.5">__rte_ring_do_enqueue_elem</text></g>
<g id="n151"><rect class="o" x="811" y="2268" width="100" height="17"/><text y="2268"><tspan x="817" dy="5">__rte_ring_move_prod_head</tspan><tspan x="814" dy="5.2">更新rte_ring中的producer head（prod->head）</tspan></text></g>
<g id="n152"><rect class="o" x="814" y="2292" width="98" height="21"/><text x="817" y="2298">__rte_ring_enqueue_elems</text></g>
<g id="n153"><rect class="o" x="814" y="2321" width="97" height="22"/><text y="2321"><tspan x="817" dy="5.2">update_tail</tspan><tspan x="817" dy="5.2">更新rte_ring中的producer tail（prod->tail）</tspan></text></g>
<g id="n154"><rect class="o" x="836" y="1967" width="104" height="9"/><text x="839" y="1972.5">rte_memzone_reserve_aligned</text></g>
<g id="n155"><rect class="o" x="854" y="1986" width="82" height="11"/><text x="857" y="1991.5">rte_memzone_reserve_thread_safe</text></g>
<g id="n156"><rect class="o" x="854" y="2006" width="83" height="11"/><text x="857" y="2011.5">memzone_reserve_aligned_thread_unsafe</text></g>
<g id="n157"><rect class="o" x="906" y="2026" width="174" height="15"/><text y="2026"><tspan x="909" dy="5">malloc_heap_alloc</tspan><tspan x="909" dy="5.2" class="r">在heap中申请空间</tspan></text></g>
<g id="n158"><rect class="o" x="907" y="2046" width="145" height="11"/><text x="910" y="2052.5">上一步申请到的内存地址都属struct rte_memzone->addr和iova（物理地址）</text></g>
<g id="n159"><rect class="o" x="836" y="2085" width="37" height="9"/><text x="839" y="2090.5">rte_ring_init</text></g>
<g id="n160"><rect class="o" x="636" y="2140" width="95" height="17"/><text x="639" y="2146">rte_mempool_obj_iter</text></g>
<g id="n161"><rect class="o" x="636" y="2166" width="99" height="34"/><text y="2166"><tspan x="639" dy="5">rte_pktmbuf_init</tspan><tspan x="639" dy="5.2">初始每个mbuf的struct rte_mbuf普通的部分，主要是</tspan><tspan x="639" dy="5.2">data room的最后度过buf_addr和物理地址buf_iova,</tspan><tspan x="639" dy="5.2">以及长度buf_len</tspan></text></g>
<g id="connectors" class="c">
<path d="M7 93H4"/><path d="M38 93H42"/>
<path d="M98.5 10V1642"/><path d="M98.5 19H113"/><path d="M98.5 1285H113"/><path d="M98.5 1345H112"/><path d="M98.5 1368H112"/><path d="M98.5 1470H113"/><path d="M98.5 1518H113"/><path d="M98.5 1551H113"/>
<path d="M135.5 24V1240"/><path d="M135.5 37H151"/><path d="M135.5 61H151"/><path d="M135.5 102H151"/><path d="M135.5 216H151"/><path d="M135.5 378H152"/><path d="M135.5 620H152"/><path d="M135.5 793H152"/><path d="M135.5 814H152"/><path d="M135.5 1092H152"/><path d="M135.5 1113H152"/><path d="M135.5 1130H152"/><path d="M135.5 1146H152"/><path d="M135.5 1160H152"/><path d="M135.5 1175H152"/><path d="M136 1224H153"/>
<path class="k" d="M248 123V133"/><path class="q" d="M249 143V153"/><path class="k" d="M246 415V428"/>
<path d="M179.500 624V785"/><path d="M179.500 632H196"/><path d="M179.500 781H195"/>
<path d="M227 653V772"/><path d="M227 667H244"/><path d="M227 700H243"/><path d="M227 742H243"/>
<path d="M180 826V1065"/><path d="M180 836H196"/><path d="M180 915H197"/><path d="M180 956H197"/><path d="M180 1060H196"/>
<path d="M219.500 840V854"/><path d="M219.500 847H236"/>
<path d="M260 852V867"/><path d="M260 857L348 858"/>
<path d="M404.500 874V937"/><path d="M404.500 880H421"/><path d="M404.500 929H421"/>
<path d="M347 995H371"/>
<path d="M424 1005V1150"/><path d="M424 1016H440"/><path d="M424 1091H440"/>
<path d="M501.500 1106V1327"/><path d="M501.500 1117H517"/><path d="M501.500 1169H517"/><path d="M501.500 1325H521"/>
<path d="M562 1123V1142"/><path d="M562 1133H579"/><path d="M567 1330V1350"/><path d="M567 1341H583"/>
<path class="k" d="M563 1176V1185"/>
<path d="M565 1195V1313"/><path d="M565 1199H607"/><path d="M565 1217H607"/><path d="M565 1233H607"/><path d="M565 1251H607"/><path d="M565 1273H607"/><path d="M565 1293H608"/><path d="M565 1310H608"/>
<path d="M219 1103V1123"/><path d="M219 1114H235"/>
<path d="M246 1124V1178"/><path d="M246 1135H261"/>
<path d="M294 1145V1254"/><path d="M294 1149H310"/><path d="M294 1176H310"/><path d="M294 1202H310"/><path d="M294 1221H311"/>
<path d="M177 1179V1192"/><path d="M177 1187H192"/><path d="M217 1192V1206"/><path d="M217 1200H233"/>
<path class="k" d="M258 1205V1212"/><path class="k" d="M258 1222V1229"/><path class="k" d="M259 1239V1247"/><path class="k" d="M259 1256V1264"/>
<path d="M259.500 1274V1333"/><path d="M259.500 1282H276"/><path d="M259.500 1297H276"/>
<path d="M304 1303V1835"/><path d="M304 1313H321"/><path d="M304 1542H320"/><path d="M304 1566H321"/><path d="M304 1588H321"/><path d="M304 1648H321"/><path d="M304 1687H322"/><path d="M304 1731H321"/><path d="M304 1754H321"/><path d="M304 1775H320"/><path d="M304 1795H320"/><path d="M304 1818H321"/>
<path class="k" d="M387 1595V1603"/><path class="k" d="M343 1653V1660"/><path class="k" d="M343 1692V1700"/>
<path d="M148 1291V1321"/><path d="M148 1306H165"/>
<path d="M148 1375V1457"/><path d="M148 1389H165"/><path d="M148 1410H165"/><path d="M148 1435H165"/>
<path d="M242 1509V1591"/><path d="M242 1531H494"/>
<path d="M142 1557V1826"/><path d="M142 1571H160"/><path d="M142 1588H160"/><path d="M142 1606H160"/><path d="M142 1625H160"/><path d="M142 1647H160"/><path d="M142 1769H161"/>
<path class="dot" d="M175 1658V1667"/><path class="k" d="M175 1676V1683"/><path class="k" d="M175 1692V1700"/><path class="k" d="M175 1709V1731"/><path class="k" d="M175 1740V1747"/>
<path class="dot" d="M176 1776V1786"/><path class="k" d="M176 1795V1802"/><path class="k" d="M176 1811V1818"/>
<path d="M176 1827V1876"/><path d="M176 1838H192"/><path d="M176 1872H192"/><path class="k" d="M207 1842V1849"/>
<path class="k" d="M175 1713L330 1872"/>
<path d="M304 1881V1936"/><path d="M304 1895H321"/><path d="M304 1918H320"/>
<path class="k" d="M347 1921V1930"/><path class="k" d="M348 1950V1960"/><path class="k" d="M348 1992V1998"/><path class="k" d="M348 2011V2021"/><path class="k" d="M348 2034V2044"/><path class="k" d="M348 2056V2066"/><path class="k" d="M349 2079V2089"/>
<path d="M350 2101V2185"/><path d="M350 2119H367"/><path d="M350 2138H369"/><path d="M350 2166L368 2165"/>
<path class="k" d="M466 2143L483 2142"/>
<path d="M517 1569V1703"/><path d="M517 1584H532"/>
<path d="M549 1593V1727"/><path d="M549 1608H565"/>
<path class="k" d="M615.500 1615V1626"/>
<path d="M615.500 1640V2170"/><path d="M615.500 1655H631"/><path d="M615.500 1718H631"/><path d="M615.500 1739H631"/><path d="M615.500 1759H632"/><path d="M615.500 1779H632"/><path d="M615.500 2148H636"/>
<path d="M660 1663V1689"/><path d="M660 1676H676"/>
<path d="M657.500 1787V2040"/><path d="M657.500 1801H673"/><path d="M657.500 1856H673"/><path d="M657.500 1880H673"/><path d="M657.500 2007H678"/>
<path d="M712 2049H637.500V1799H673"/>
<path d="M708 1803V1830"/><path d="M708 1817H724"/>
<path d="M762 1821V1876"/><path d="M762 1834H778"/><path d="M762 1854H777"/>
<path class="k" d="M812 1867V1876"/><path class="k" d="M813 1887V1896"/><path class="k" d="M813 1914V1923"/>
<path class="k" d="M709 1891V1901"/><path class="k" d="M709 1910V1920"/>
<path d="M813 1942V2107"/><path d="M813 2089H836"/><path class="k" d="M813 1963L836 1972"/>
<path class="k" d="M657 1993L836 1972"/>
<path d="M685 2012V2117"/><path d="M685 2030H703"/>
<path d="M712 2036V2119"/><path d="M712 2058H729"/>
<path class="k" d="M767 2064V2072"/><path class="k" d="M767 2084V2092"/><path class="k" d="M767 2104V2112"/>
<path d="M743 2124V2209"/><path d="M743 2144H760"/><path d="M743 2174H761"/>
<path class="k" d="M795 2180V2188"/><path class="k" d="M795 2199V2209"/><path class="k" d="M796 2219V2229"/><path class="k" d="M796 2239V2248"/>
<path d="M794 2259V2344"/><path d="M794 2276H811"/><path d="M794 2302H814"/><path d="M794 2332H814"/>
<path class="k" d="M887 1976V1986"/><path class="k" d="M889 1997V2006"/>
<path d="M887 2017V2075"/><path d="M887 2034H906"/><path d="M887 2052H907"/>
<path class="k" d="M670 2157V2166"/>
<path class="s" d="M803 1690L886 1967"/>
<path class="p" d="M243 205L283 615L315 930L348 1265L376 1535L396 1746"/>
<path class="q" d="M204 1752L321 1420"/><path class="q" d="M236 1853L321 1420"/>
</g>
<g id="watermark">
<ellipse cx="826" cy="2292" rx="13" ry="11" fill="#fff" stroke="#999"/>
<ellipse cx="840" cy="2301" rx="13" ry="11" fill="#fff" stroke="#999"/>
<circle cx="836" cy="2300" r="1.300" fill="#777"/><circle cx="845" cy="2300" r="1.300" fill="#777"/>
<text class="wm" x="858" y="2312">布</text><text class="wm" x="885" y="2312">知乎</text><text class="wm" x="962" y="2312">@雨眠</text>
</g>
</svg>
